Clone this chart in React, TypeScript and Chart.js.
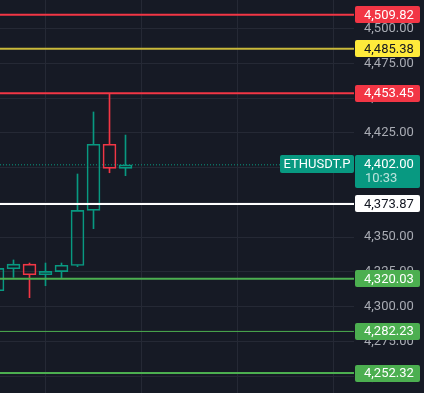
import React, { useEffect, useRef } from 'react';
import { Chart, registerables } from 'chart.js';

Chart.register(...registerables);

// ---- data ----
const symbol = 'ETHUSDT.P';
const countdown = '10:33';
const candleIndex = [0, 1, 2, 3, 4, 5, 6, 7, 8];
const opens = [4311.5, 4327.3, 4330.6, 4323.0, 4325.2, 4329.6, 4369.3, 4416.8, 4399.5];
const highs = [4330.0, 4333.6, 4331.4, 4331.4, 4331.4, 4395.4, 4440.0, 4453.4, 4423.4];
const lows = [4309.0, 4321.1, 4306.5, 4315.1, 4320.9, 4328.8, 4356.1, 4396.3, 4394.2];
const closes = [4327.6, 4330.6, 4323.0, 4325.4, 4329.8, 4369.3, 4416.8, 4399.5, 4402.0];

const levelPrices = [4509.82, 4485.38, 4453.45, 4373.87, 4320.03, 4282.23, 4252.32];
const levelBoxColors = ['#F23645', '#FFEB3B', '#F23645', '#FFFFFF', '#4CAF50', '#4CAF50', '#4CAF50'];
const levelLineColors = ['#F23645', '#C9B93A', '#F23645', '#FFFFFF', '#4CAF50', '#4CAF50', '#4CAF50'];
const levelTextColors = ['#FFFFFF', '#131722', '#FFFFFF', '#131722', '#FFFFFF', '#FFFFFF', '#FFFFFF'];
const levelWidths = [2, 2, 2, 2, 2, 1, 2];

const timeGridIndices = [3, 9, 15, 21];
const priceStep = 25;

// ---- style ----
const BG = '#161A25';
const GRID = '#252935';
const UP = '#089981';
const DOWN = '#F23645';
const TEXT = '#A8ABB3';
const FONT = 'Roboto, "Noto Sans", sans-serif';

const X_MIN = 0.15625;
const X_MAX = 22.28125;
const Y_MIN = 4237.96;
const Y_MAX = 4520.49;
const AXIS_W = 70;

const fmt = (v: number) =>
  v.toLocaleString('en-US', { minimumFractionDigits: 2, maximumFractionDigits: 2 });

const labelsPlugin = {
  id: 'priceLabels',
  beforeDraw(chart: any) {
    const ctx = chart.ctx;
    ctx.save();
    ctx.fillStyle = BG;
    ctx.fillRect(0, 0, chart.width, chart.height);
    ctx.restore();
  },
  afterDraw(chart: any) {
    const ctx = chart.ctx as CanvasRenderingContext2D;
    const ys = chart.scales.y;
    const area = chart.chartArea;
    const left = area.right + 1;
    const textX = area.right + 10;
    const w = 65;
    const h = 17;
    ctx.save();
    ctx.font = `13px ${FONT}`;
    ctx.textAlign = 'left';
    ctx.textBaseline = 'middle';
    levelPrices.forEach((p, i) => {
      const py = ys.getPixelForValue(p);
      ctx.beginPath();
      ctx.roundRect(left, Math.round(py - h / 2), w, h, 2);
      ctx.fillStyle = levelBoxColors[i];
      ctx.fill();
      ctx.fillStyle = levelTextColors[i];
      ctx.fillText(fmt(p), textX, Math.round(py) + 1);
    });
    // current price
    const last = closes[closes.length - 1];
    const py = Math.round(ys.getPixelForValue(last));
    ctx.beginPath();
    ctx.roundRect(left, py - 10, w, 33, 2);
    ctx.fillStyle = UP;
    ctx.fill();
    ctx.fillStyle = '#FFFFFF';
    ctx.fillText(fmt(last), textX, py);
    ctx.fillStyle = 'rgba(255,255,255,0.72)';
    ctx.fillText(countdown, textX + 1, py + 14);
    // symbol box
    const sw = 74;
    ctx.beginPath();
    ctx.roundRect(area.right - sw, py - 10, sw, 18, 2);
    ctx.fillStyle = UP;
    ctx.fill();
    ctx.fillStyle = '#FFFFFF';
    ctx.textAlign = 'center';
    ctx.fillText(symbol, area.right - sw / 2, py);
    ctx.restore();
  },
};

export default function App() {
  const ref = useRef<HTMLCanvasElement | null>(null);

  useEffect(() => {
    document.body.style.margin = '0';
    document.body.style.background = BG;
    const canvas = ref.current;
    if (!canvas) return;

    const colors = candleIndex.map((_, i) => (closes[i] >= opens[i] ? UP : DOWN));
    const bodies = candleIndex.map((x, i) => ({ x, y: [opens[i], closes[i]] }));
    const upperWicks = candleIndex.map((x, i) => ({ x, y: [Math.max(opens[i], closes[i]), highs[i]] }));
    const lowerWicks = candleIndex.map((x, i) => ({ x, y: [lows[i], Math.min(opens[i], closes[i])] }));

    const levelDatasets = levelPrices.map((p, i) => ({
      type: 'line',
      data: [
        { x: X_MIN, y: p },
        { x: X_MAX, y: p },
      ],
      borderColor: levelLineColors[i],
      borderWidth: levelWidths[i],
      pointRadius: 0,
      order: 0,
    }));

    const last = closes[closes.length - 1];

    const chart = new Chart(canvas, {
      type: 'bar',
      data: {
        datasets: [
          ...levelDatasets,
          {
            type: 'line',
            data: [
              { x: X_MIN, y: last },
              { x: X_MAX, y: last },
            ],
            borderColor: UP,
            borderWidth: 1,
            borderDash: [1, 2],
            pointRadius: 0,
            order: 1,
          },
          {
            type: 'bar',
            data: bodies,
            backgroundColor: 'rgba(0,0,0,0)',
            borderColor: colors,
            borderWidth: 1,
            borderSkipped: false,
            barThickness: 13,
            grouped: false,
            order: 2,
          },
          {
            type: 'bar',
            data: upperWicks,
            backgroundColor: colors,
            borderWidth: 0,
            barThickness: 1,
            grouped: false,
            order: 3,
          },
          {
            type: 'bar',
            data: lowerWicks,
            backgroundColor: colors,
            borderWidth: 0,
            barThickness: 1,
            grouped: false,
            order: 3,
          },
        ] as any,
      },
      options: {
        animation: false,
        responsive: false,
        maintainAspectRatio: false,
        layout: { padding: 0 },
        plugins: { legend: { display: false }, tooltip: { enabled: false } },
        scales: {
          x: {
            type: 'linear',
            min: X_MIN,
            max: X_MAX,
            offset: false,
            ticks: { display: false },
            grid: { color: GRID, drawTicks: false, offset: false },
            border: { display: false },
            afterBuildTicks: (s: any) => {
              s.ticks = timeGridIndices.map((v) => ({ value: v }));
            },
            afterFit: (s: any) => {
              s.height = 0;
              s.paddingLeft = 0;
              s.paddingRight = 0;
            },
          },
          y: {
            type: 'linear',
            position: 'right',
            min: Y_MIN,
            max: Y_MAX,
            ticks: {
              stepSize: priceStep,
              includeBounds: false,
              color: TEXT,
              padding: 10,
              font: { family: FONT, size: 13 },
              callback: (v: any) => fmt(Number(v)),
            },
            grid: { color: GRID, drawTicks: false },
            border: { display: false },
            afterFit: (s: any) => {
              s.width = AXIS_W;
              s.paddingTop = 0;
              s.paddingBottom = 0;
            },
          },
        },
      } as any,
      plugins: [labelsPlugin],
    });

    return () => chart.destroy();
  }, []);

  return (
    <div style={{ position: 'absolute', left: 0, top: 0, width: 424, height: 393, background: BG }}>
      <canvas ref={ref} width={424} height={393} style={{ display: 'block', width: 424, height: 393 }} />
    </div>
  );
}
